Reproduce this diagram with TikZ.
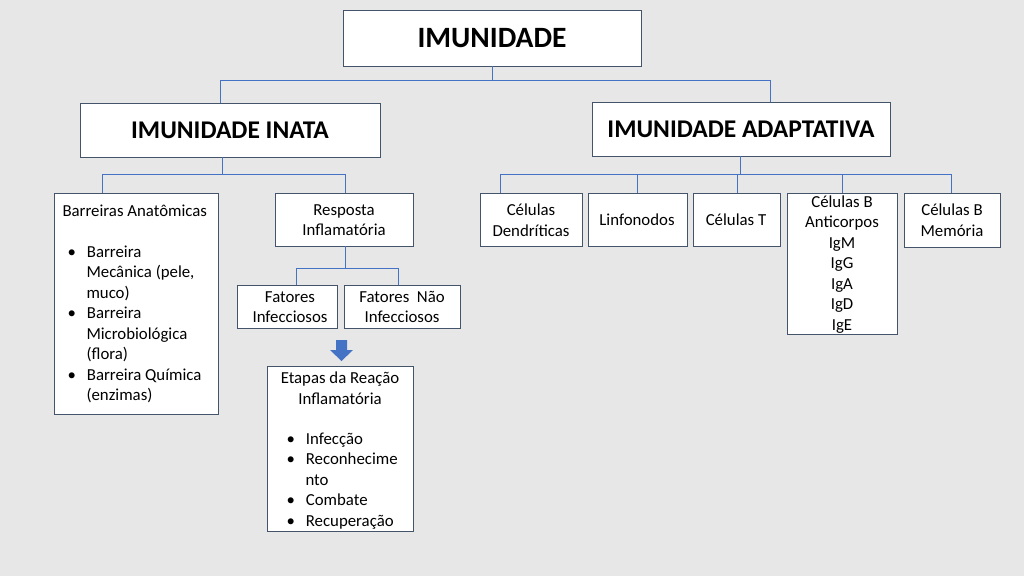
\documentclass[tikz,border=0pt]{standalone}
\usepackage{fontspec}
\setmainfont{Carlito}
\begin{document}
\begin{tikzpicture}[x=1pt,y=-1pt,
  box/.style={draw=boxc,fill=white,line width=0.8pt,inner sep=0pt},
  con/.style={draw=linec,line width=0.8pt},
  txt/.style={font=\fontsize{16.8}{20.5}\selectfont,align=center}]
\definecolor{boxc}{HTML}{44546A}
\definecolor{linec}{HTML}{4472C4}
\definecolor{bg}{HTML}{E7E7E7}
\fill[bg] (0,0) rectangle (1024,576);
\useasboundingbox (0,0) rectangle (1024,576);
% boxes
\draw[box] (343,10) rectangle (641,66); \node[font=\fontsize{29.5}{32}\selectfont\bfseries] (imu) at (492,38) {IMUNIDADE};
\draw[box] (80,103) rectangle (380,157); \node[font=\fontsize{25.5}{28}\selectfont\bfseries] (ina) at (230,130) {IMUNIDADE INATA};
\draw[box] (592,102) rectangle (890,156); \node[font=\fontsize{25.5}{28}\selectfont\bfseries] (ada) at (741,129) {IMUNIDADE ADAPTATIVA};
\draw[box] (54,193) rectangle (218,414);
\node[txt,anchor=north west] (bar) at (59,201) {Barreiras Anatômicas};
\node[font=\fontsize{16.8}{20.5}\selectfont,anchor=north west,align=left] (barl) at (64,242) {%
\textbullet\hspace{11pt}Barreira\\ \hspace{19pt}Mecânica (pele,\\ \hspace{19pt}muco)\\
\textbullet\hspace{11pt}Barreira\\ \hspace{19pt}Microbiológica\\ \hspace{19pt}(flora)\\
\textbullet\hspace{11pt}Barreira Química\\ \hspace{19pt}(enzimas)};
\draw[box] (275,193) rectangle (413,246); \node[txt] (resp) at (344,220) {Resposta\\Inflamatória};
\draw[box] (237,285) rectangle (337,328); \node[txt] (fi) at (290,307) {Fatores\\Infecciosos};
\draw[box] (344,285) rectangle (460,328); \node[txt] (fni) at (402,307) {Fatores~~Não\\Infecciosos};
\draw[box] (267,366) rectangle (413,531);
\node[txt] (eta) at (340,388) {Etapas da Reação\\Inflamatória};
\node[font=\fontsize{16.8}{20.5}\selectfont,anchor=north west,align=left] (etl) at (283,429) {%
\textbullet\hspace{11pt}Infecção\\ \textbullet\hspace{11pt}Reconhecime\\ \hspace{19pt}nto\\
\textbullet\hspace{11pt}Combate\\ \textbullet\hspace{11pt}Recuperação};
\draw[box] (480,193) rectangle (582,246); \node[txt] (den) at (531,220) {Células\\Dendríticas};
\draw[box] (588,193) rectangle (687,246); \node[txt] (lin) at (637,220) {Linfonodos};
\draw[box] (693,193) rectangle (780,246); \node[txt] (ct) at (736,220) {Células T};
\draw[box] (787,193) rectangle (897,334); \node[txt,anchor=north] (cb) at (842,192) {Células B\\Anticorpos\\IgM\\IgG\\IgA\\IgD\\IgE};
\draw[box] (904,193) rectangle (1000,247); \node[txt] (mem) at (952,220) {Células B\\Memória};
% connectors
\coordinate (c1) at (492,66); \coordinate (c2) at (492,80);
\draw[con] (c1) -- (c2);
\draw[con] (220,103) -- (220,80) -- (770,80) -- (770,102);
\draw[con] (222,157) -- (222,174);
\draw[con] (102,193) -- (102,174) -- (345,174) -- (345,193);
\draw[con] (345,246) -- (345,268);
\draw[con] (296,285) -- (296,268) -- (398,268) -- (398,285);
\draw[con] (740,156) -- (740,174);
\draw[con] (500,193) -- (500,174) -- (951,174) -- (951,193);
\draw[con] (637,174) -- (637,193);
\draw[con] (737,174) -- (737,193);
\draw[con] (842,174) -- (842,193);
% arrow
\fill[linec] (336,340) -- (347,340) -- (347,350) -- (353,350) -- (341.5,361) -- (330,350) -- (336,350) -- cycle;
\end{tikzpicture}
\end{document}
